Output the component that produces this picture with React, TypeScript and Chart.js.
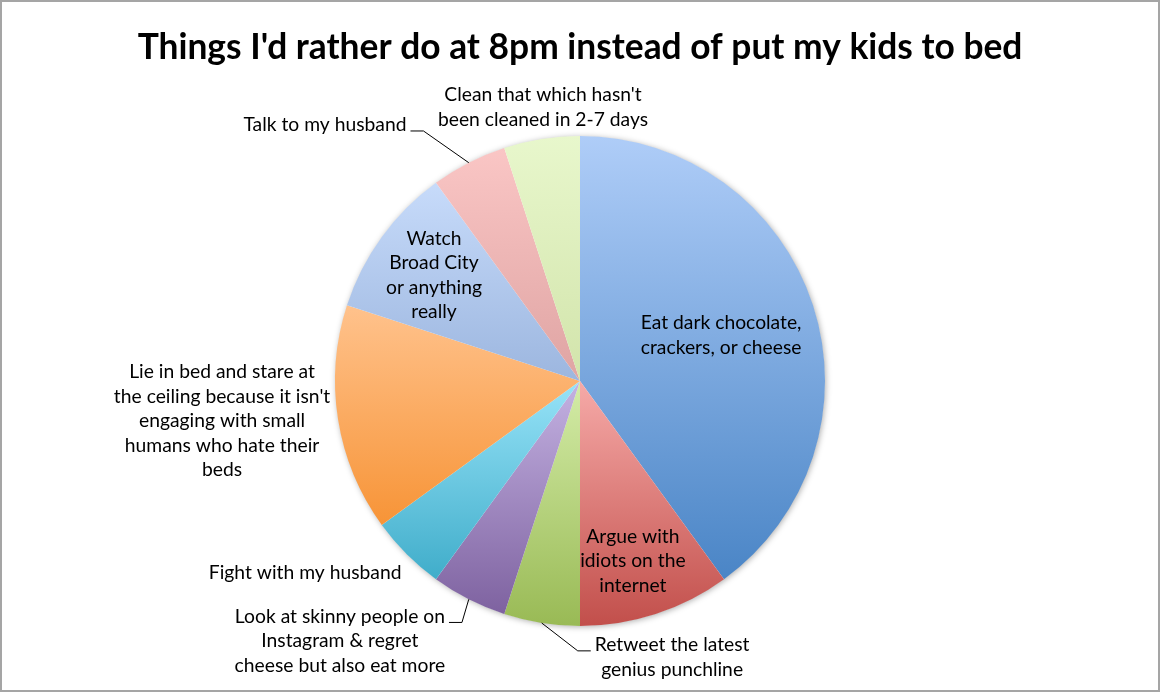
import React, { useRef, useEffect } from 'react'
import { Chart, DoughnutController, ArcElement, Plugin, ChartConfiguration } from 'chart.js'

Chart.register(DoughnutController, ArcElement)

// --- data ---
const chartTitle = "Things I'd rather do at 8pm instead of put my kids to bed"

const categories: string[][] = [
    ['Eat dark chocolate,', 'crackers, or cheese'],
    ['Argue with', 'idiots on the', 'internet'],
    ['Retweet the latest', 'genius punchline'],
    ['Look at skinny people on', 'Instagram & regret', 'cheese but also eat more'],
    ['Fight with my husband'],
    ['Lie in bed and stare at', "the ceiling because it isn't", 'engaging with small', 'humans who hate their', 'beds'],
    ['Watch', 'Broad City', 'or anything', 'really'],
    ['Talk to my husband'],
    ["Clean that which hasn't", 'been cleaned in 2-7 days'],
]

const shares = [40, 10, 5, 5, 5, 15, 10, 5, 5]

// --- styles ---
const topColors = ['#afcdf8', '#f6aaa8', '#d4eca8', '#c4b2e2', '#97e3f8', '#ffc28c', '#c7dbfa', '#fac6c5', '#e8f7cc']
const bottomColors = ['#4a85c6', '#c24f4b', '#99ba55', '#7e62a0', '#40adca', '#f79437', '#9cb6df', '#dfa4a3', '#d2e4ab']

// label block centre, in pie radius units from the pie centre
const labelLayout = [
    { dx: 0.576, dy: -0.186, leader: false },
    { dx: 0.216, dy: 0.735, leader: false },
    { dx: 0.376, dy: 1.127, leader: true },
    { dx: -0.98, dy: 1.061, leader: true },
    { dx: -1.122, dy: 0.784, leader: false },
    { dx: -1.461, dy: 0.163, leader: false },
    { dx: -0.596, dy: -0.431, leader: false },
    { dx: -1.041, dy: -1.045, leader: true },
    { dx: -0.151, dy: -1.118, leader: false },
]

const FONT = 'Lato, "Open Sans", sans-serif'
const LABEL_SIZE = 19.3
const LINE_H = 24.5

// vertical extent of slice i, computed from the data and chart area
function sliceBounds(chart: Chart, i: number) {
    const area = chart.chartArea
    const cx = (area.left + area.right) / 2
    const cy = (area.top + area.bottom) / 2
    const r = Math.min(area.width, area.height) / 2
    const total = shares.reduce((a, b) => a + b, 0)
    let start = -Math.PI / 2
    for (let k = 0; k < i; k++) start += (shares[k] / total) * Math.PI * 2
    const end = start + (shares[i] / total) * Math.PI * 2
    let minY = cy, maxY = cy
    for (const a of [start, end]) {
        const py = cy + r * Math.sin(a)
        minY = Math.min(minY, py)
        maxY = Math.max(maxY, py)
    }
    const inside = (a: number) => (a >= start && a <= end) || (a + Math.PI * 2 >= start && a + Math.PI * 2 <= end)
    if (inside(-Math.PI / 2)) minY = cy - r
    if (inside(Math.PI / 2)) maxY = cy + r
    return { minY, maxY }
}

const piePlugin: Plugin<'doughnut'> = {
    id: 'piePlugin',
    beforeDraw(chart) {
        const { ctx, width, height } = chart
        ctx.save()
        ctx.fillStyle = '#ffffff'
        ctx.fillRect(0, 0, width, height)
        ctx.strokeStyle = '#a5a5a5'
        ctx.lineWidth = 2
        ctx.strokeRect(1, 1, width - 3, height - 3)
        // title
        ctx.fillStyle = '#000000'
        ctx.textAlign = 'center'
        ctx.textBaseline = 'alphabetic'
        ctx.font = `bold 36px ${FONT}`
        const w = ctx.measureText(chartTitle).width
        const size = 36 * 885 / w
        ctx.font = `bold ${size}px ${FONT}`
        ctx.fillText(chartTitle, 580, 59)
        ctx.restore()
    },
    beforeDatasetsDraw(chart) {
        const meta = chart.getDatasetMeta(0)
        const arc = meta.data[0] as any
        if (!arc) return
        const { ctx } = chart
        ctx.save()
        ctx.shadowColor = 'rgba(0,0,0,0.35)'
        ctx.shadowBlur = 6
        ctx.shadowOffsetX = 1
        ctx.shadowOffsetY = 1
        ctx.fillStyle = '#ffffff'
        ctx.beginPath()
        ctx.arc(arc.x, arc.y, arc.outerRadius - 0.5, 0, Math.PI * 2)
        ctx.fill()
        ctx.restore()
    },
    afterDatasetsDraw(chart) {
        const { ctx } = chart
        const meta = chart.getDatasetMeta(0)
        ctx.save()
        ctx.font = `${LABEL_SIZE}px ${FONT}`
        ctx.fillStyle = '#000000'
        ctx.textAlign = 'center'
        ctx.textBaseline = 'middle'
        meta.data.forEach((el: any, i) => {
            const { x, y, startAngle, endAngle, outerRadius } = el
            const lay = labelLayout[i]
            const lines = categories[i]
            const bx = x + lay.dx * outerRadius
            const by = y + lay.dy * outerRadius
            const top = by - ((lines.length - 1) * LINE_H) / 2
            lines.forEach((line, j) => ctx.fillText(line, bx, top + j * LINE_H))
            if (lay.leader) {
                const mid = (startAngle + endAngle) / 2
                const ex = x + outerRadius * Math.cos(mid)
                const ey = y + outerRadius * Math.sin(mid)
                const half = ctx.measureText(lines[0]).width / 2
                const side = bx < ex ? 1 : -1
                const endX = bx + side * (half + 4)
                const kneeX = endX + side * 13
                const ly = top + 6
                ctx.strokeStyle = '#000000'
                ctx.lineWidth = 1
                ctx.beginPath()
                ctx.moveTo(ex, ey)
                ctx.lineTo(kneeX, ly)
                ctx.lineTo(endX, ly)
                ctx.stroke()
            }
        })
        ctx.restore()
    },
}

export default function App() {
    const canvasRef = useRef<HTMLCanvasElement | null>(null)
    const chartRef = useRef<Chart<'doughnut', number[], string[]> | null>(null)

    useEffect(() => {
        document.body.style.margin = '0'
        if (!canvasRef.current) return

        const config: ChartConfiguration<'doughnut', number[], string[]> = {
            type: 'doughnut',
            data: {
                labels: categories,
                datasets: [
                    {
                        data: shares,
                        borderWidth: 0,
                        backgroundColor: (c: any) => {
                            const chart = c.chart as Chart
                            const i = c.dataIndex
                            if (!chart.chartArea || i === undefined) return bottomColors[i ?? 0]
                            const { minY, maxY } = sliceBounds(chart, i)
                            const g = chart.ctx.createLinearGradient(0, minY, 0, maxY)
                            g.addColorStop(0, topColors[i])
                            g.addColorStop(1, bottomColors[i])
                            return g
                        },
                    },
                ],
            },
            options: {
                responsive: true,
                maintainAspectRatio: false,
                animation: false,
                cutout: 0,
                layout: { padding: { top: 136, bottom: 67, left: 300, right: 301 } },
                plugins: {
                    legend: { display: false },
                    tooltip: { enabled: false },
                },
            },
            plugins: [piePlugin],
        }

        chartRef.current = new Chart(canvasRef.current, config)
        return () => {
            chartRef.current?.destroy()
        }
    }, [])

    return (
        <div style={{ width: 1161, height: 693, position: 'relative' }}>
            <canvas ref={canvasRef} />
        </div>
    )
}
